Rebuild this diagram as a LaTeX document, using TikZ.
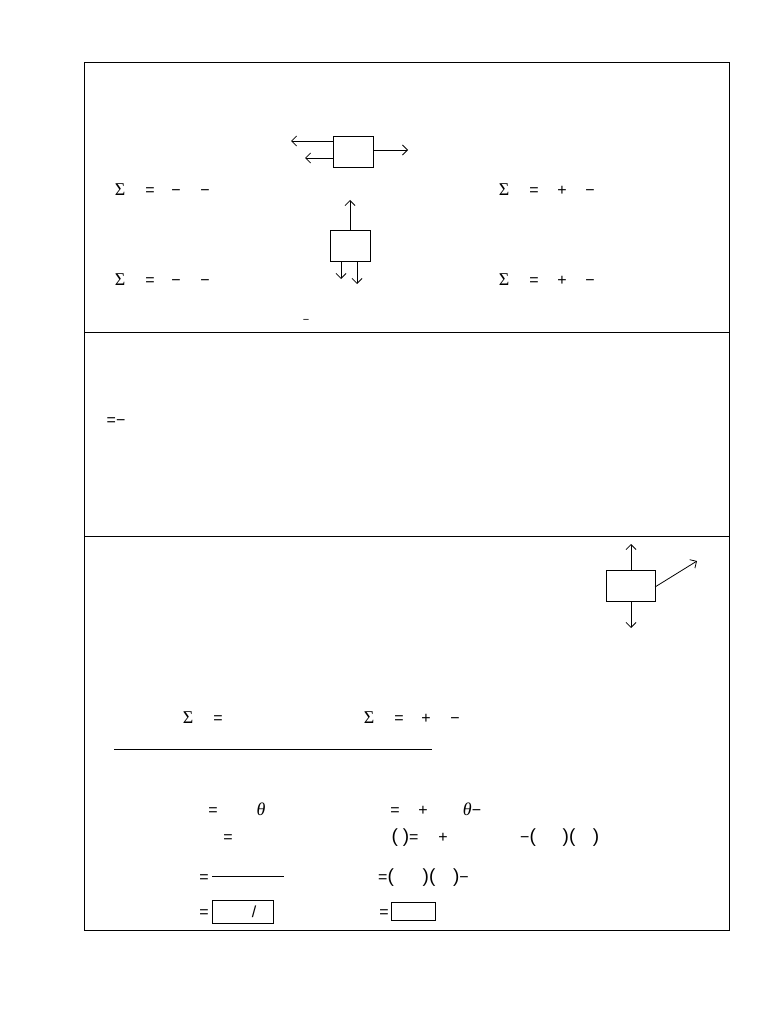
\documentclass[tikz,border=0pt]{standalone}
\usepackage{fontspec}
\setmainfont{Liberation Sans}
\newfontfamily\symserif{Liberation Serif}
\usetikzlibrary{arrows.meta}
\newcommand{\sgm}{{\symserif\fontsize{18}{20}\selectfont Σ}}
\newcommand{\tht}{{\symserif\itshape\fontsize{18}{20}\selectfont θ}}
\newcommand{\lp}{{\fontsize{19}{21}\selectfont(}}
\newcommand{\rp}{{\fontsize{19}{21}\selectfont)}}
\begin{document}
\begin{tikzpicture}[x=1pt,y=-1pt,
  frame/.style={draw=black, line width=0.8pt},
  blk/.style={draw=black, line width=0.8pt},
  force/.style={draw=black, line width=0.8pt, -{Straight Barb[length=5pt,width=10pt]}},
  sym/.style={inner sep=0pt, anchor=base, font=\fontsize{16}{18}\selectfont},
  rule/.style={draw=black, line width=0.8pt}]
\useasboundingbox (0,0) rectangle (768,1024);
% frame and panel dividers
\draw[frame] (84,62) rectangle (729,930);
\draw[frame] (84,332) -- (729,332);
\draw[frame] (84,536) -- (729,536);

% ---------- top panel ----------
\node[blk, minimum width=40pt, minimum height=31pt, inner sep=0pt] (b1) at (353,151.5) {};
\coordinate (b1l1) at (333,141); \coordinate (b1l1e) at (291,141);
\coordinate (b1l2) at (333,158); \coordinate (b1l2e) at (305,158);
\coordinate (b1r) at (373,150); \coordinate (b1re) at (408,150);
\draw[force] (b1l1) -- (b1l1e);
\draw[force] (b1l2) -- (b1l2e);
\draw[force] (b1r) -- (b1re);

\node[blk, minimum width=40pt, minimum height=31pt, inner sep=0pt] (b2) at (350,245.5) {};
\coordinate (b2u) at (350,230); \coordinate (b2ue) at (350,200);
\coordinate (b2d1) at (341,261); \coordinate (b2d1e) at (341,279);
\coordinate (b2d2) at (357,261); \coordinate (b2d2e) at (357,284);
\draw[force] (b2u) -- (b2ue);
\draw[force] (b2d1) -- (b2d1e);
\draw[force] (b2d2) -- (b2d2e);

\foreach \y/\n in {196/a,285/b}{
  \node[sym] (s1\n) at (120,\y) {\sgm};
  \node[sym] (e1\n) at (150,\y) {=};
  \node[sym] (m1\n) at (176,\y) {−};
  \node[sym] (n1\n) at (205,\y) {−};
  \node[sym] (s2\n) at (504,\y) {\sgm};
  \node[sym] (e2\n) at (534,\y) {=};
  \node[sym] (p2\n) at (562,\y) {+};
  \node[sym] (m2\n) at (590,\y) {−};
}
\node[sym, font=\fontsize{11}{13}\selectfont] (dash) at (306,323) {−};

% ---------- middle panel ----------
\node[sym] (eqm) at (116,425) {=−};

% ---------- bottom panel ----------
\node[blk, minimum width=49pt, minimum height=31pt, inner sep=0pt] (b3) at (630.5,585.5) {};
\coordinate (b3u) at (631,570); \coordinate (b3ue) at (631,544);
\coordinate (b3d) at (631,601); \coordinate (b3de) at (631,628);
\coordinate (b3r) at (655,587); \coordinate (b3re) at (697,561);
\draw[force] (b3u) -- (b3ue);
\draw[force] (b3d) -- (b3de);
\draw[force] (b3r) -- (b3re);

\node[sym] (s3) at (188,723) {\sgm};
\node[sym] (e3) at (218,723) {=};
\node[sym] (s4) at (369,723) {\sgm};
\node[sym] (e4) at (399,723) {=};
\node[sym] (p4) at (426,723) {+};
\node[sym] (m4) at (455,723) {−};
\coordinate (hl1) at (114,749); \coordinate (hl2) at (432,749);
\draw[rule] (hl1) -- (hl2);

\node[sym] (r1a) at (213,815) {=};
\node[sym] (r1b) at (261,815) {\tht};
\node[sym] (r1c) at (395,815) {=};
\node[sym] (r1d) at (423,815) {+};
\node[sym] (r1e) at (472,815) {\tht−};

\node[sym] (r2a) at (228,842) {=};
\node[sym] (r2b) at (405,842) {\lp\hspace{5pt}\rp=};
\node[sym] (r2c) at (443,842) {+};
\node[sym] (r2d) at (528,842) {−\lp};
\node[sym] (r2e) at (569,842) {\rp\lp};
\node[sym] (r2f) at (596,842) {\rp};

\node[sym] (r3a) at (204,882) {=};
\coordinate (fl1) at (212,876); \coordinate (fl2) at (284,876);
\draw[rule] (fl1) -- (fl2);
\node[sym] (r3b) at (386,882) {=\lp};
\node[sym] (r3c) at (429,882) {\rp\lp};
\node[sym] (r3d) at (461,882) {\rp−};

\node[sym] (r4a) at (204,917) {=};
\node[blk, minimum width=61pt, minimum height=23pt, inner sep=0pt] (ans1) at (242.5,911.5) {};
\node[sym] (sl) at (254,917) {/};
\node[sym] (r4b) at (384,917) {=};
\node[blk, minimum width=44pt, minimum height=18pt, inner sep=0pt] (ans2) at (413,911) {};
\end{tikzpicture}
\end{document}
